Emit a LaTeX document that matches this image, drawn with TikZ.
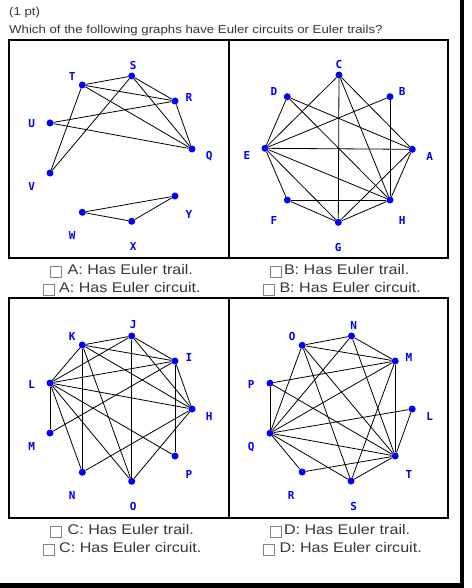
\documentclass[tikz,border=0pt]{standalone}
\usepackage{fontspec}
\setmainfont{Liberation Sans}
\newfontfamily\lblfont{DejaVu Sans Mono}
\newfontfamily\widefont{Liberation Sans}[FakeStretch=1.15]
\definecolor{nodeblue}{RGB}{0,0,250}
\definecolor{txtgray}{RGB}{55,55,55}
\definecolor{boxgray}{RGB}{130,130,130}
\tikzset{
  dot/.style={circle, fill=nodeblue, inner sep=0pt, minimum size=7pt},
  lbl/.style={text=nodeblue, font=\lblfont\bfseries\fontsize{11}{11}\selectfont, inner sep=0pt},
  edge/.style={draw=black, line width=0.8pt},
  frame/.style={draw=black, line width=1.6pt},
  chk/.style={draw=boxgray, fill=white, line width=0.7pt, minimum size=11.2pt, inner sep=0pt},
  opt/.style={text=txtgray, font=\widefont\fontsize{14}{14}\selectfont, anchor=base west, inner sep=0pt},
  hdr/.style={text=txtgray, font=\widefont\fontsize{11.5}{11.5}\selectfont, anchor=base west, inner sep=0pt},
}
\begin{document}
\begin{tikzpicture}[x=1pt,y=-1pt]
\useasboundingbox (0,0) rectangle (471,588);
\fill[white] (0,0) rectangle (471,588);
% outer borders
\fill[black] (459.5,0) rectangle (464,588);
\fill[black] (0,583.3) rectangle (464,588);
% header
\node[hdr] (h1) at (9,15.7) {(1 pt)};
\node[hdr] (h2) at (9,33.3) {Which of the following graphs have Euler circuits or Euler trails?};
% frames
\draw[frame] (9,40) rectangle (448,258);
\draw[frame] (228.7,40) -- (228.7,258);
\draw[frame] (9,298) rectangle (448,518);
\draw[frame] (228.7,298) -- (228.7,518);

% ---------- Graph A ----------
\node[dot] (aS) at (131.7,76) {};
\node[dot] (aT) at (82.3,85) {};
\node[dot] (aR) at (175,101) {};
\node[dot] (aU) at (50,123) {};
\node[dot] (aQ) at (192,149) {};
\node[dot] (aV) at (50,173) {};
\node[dot] (aY) at (175,196) {};
\node[dot] (aW) at (82.3,212.3) {};
\node[dot] (aX) at (131.7,221.3) {};
\node[lbl] (laS) at (133.3,65) {S};
\node[lbl] (laT) at (72.3,76) {T};
\node[lbl] (laR) at (189,97.3) {R};
\node[lbl] (laU) at (31.7,124) {U};
\node[lbl] (laQ) at (209.3,156) {Q};
\node[lbl] (laV) at (31.7,186.7) {V};
\node[lbl] (laY) at (189,214) {Y};
\node[lbl] (laW) at (72.3,235) {W};
\node[lbl] (laX) at (133.3,246.7) {X};
\foreach \u/\v in {aT/aS,aT/aR,aT/aQ,aT/aV,aS/aR,aS/aQ,aS/aV,aR/aQ,aR/aU,aU/aQ,aW/aY,aW/aX,aX/aY}
  \draw[edge] (\u) -- (\v);

% ---------- Graph B ----------
\node[dot] (bC) at (339,75) {};
\node[dot] (bD) at (287.3,96.7) {};
\node[dot] (bB) at (390,96.7) {};
\node[dot] (bE) at (265,148.3) {};
\node[dot] (bA) at (412.3,149.3) {};
\node[dot] (bF) at (287.3,200) {};
\node[dot] (bH) at (390,200) {};
\node[dot] (bG) at (338.3,222.3) {};
\node[lbl] (lbC) at (339,64) {C};
\node[lbl] (lbD) at (274,91) {D};
\node[lbl] (lbB) at (402.3,91) {B};
\node[lbl] (lbE) at (247,155.7) {E};
\node[lbl] (lbA) at (429.7,156) {A};
\node[lbl] (lbF) at (274,220.3) {F};
\node[lbl] (lbH) at (402.3,220.3) {H};
\node[lbl] (lbG) at (338.3,247.3) {G};
\foreach \u/\v in {bC/bE,bC/bG,bC/bH,bC/bA,bD/bE,bD/bA,bD/bH,bB/bE,bB/bH,bE/bA,bE/bH,bE/bG,bE/bF,bF/bH,bF/bG,bG/bH,bG/bA,bA/bH}
  \draw[edge] (\u) -- (\v);

% ---------- Graph C ----------
\node[dot] (cJ) at (131.7,336) {};
\node[dot] (cK) at (82.3,345) {};
\node[dot] (cI) at (175,361) {};
\node[dot] (cL) at (50,383) {};
\node[dot] (cH) at (192,409) {};
\node[dot] (cM) at (50,433) {};
\node[dot] (cP) at (175,456) {};
\node[dot] (cN) at (82.3,472.3) {};
\node[dot] (cO) at (131.7,481.3) {};
\node[lbl] (lcJ) at (133.3,325) {J};
\node[lbl] (lcK) at (72.3,336) {K};
\node[lbl] (lcI) at (189,357.3) {I};
\node[lbl] (lcL) at (31.7,384) {L};
\node[lbl] (lcH) at (209.3,416) {H};
\node[lbl] (lcM) at (31.7,446.7) {M};
\node[lbl] (lcP) at (189,474) {P};
\node[lbl] (lcN) at (72.3,495) {N};
\node[lbl] (lcO) at (133.3,506.7) {O};
\foreach \u/\v in {cK/cJ,cK/cI,cK/cH,cK/cN,cK/cO,cK/cL,cJ/cL,cJ/cO,cJ/cI,cJ/cH,cI/cL,cI/cM,cI/cP,cI/cH,cL/cH,cL/cM,cL/cN,cL/cO,cL/cP,cH/cN,cH/cO}
  \draw[edge] (\u) -- (\v);

% ---------- Graph D ----------
\node[dot] (dN) at (351.5,336) {};
\node[dot] (dO) at (302.2,345.3) {};
\node[dot] (dM) at (395.2,361) {};
\node[dot] (dP) at (270,383.2) {};
\node[dot] (dL) at (412.2,409) {};
\node[dot] (dQ) at (270,433.2) {};
\node[dot] (dT) at (395.2,456) {};
\node[dot] (dR) at (302.2,472) {};
\node[dot] (dS) at (351,481) {};
\node[lbl] (ldN) at (353.7,325) {N};
\node[lbl] (ldO) at (292.3,336) {O};
\node[lbl] (ldM) at (409,357.3) {M};
\node[lbl] (ldP) at (251.3,384) {P};
\node[lbl] (ldL) at (429.7,416.7) {L};
\node[lbl] (ldQ) at (251.3,446.7) {Q};
\node[lbl] (ldT) at (409,474) {T};
\node[lbl] (ldR) at (291.3,495) {R};
\node[lbl] (ldS) at (353.7,506.7) {S};
\foreach \u/\v in {dO/dN,dO/dM,dO/dQ,dO/dS,dO/dT,dN/dM,dN/dQ,dN/dT,dM/dP,dM/dQ,dM/dT,dM/dS,dP/dQ,dP/dT,dL/dQ,dL/dT,dQ/dT,dQ/dR,dQ/dS,dR/dT,dS/dT}
  \draw[edge] (\u) -- (\v);

% ---------- Options ----------
\node[chk] (kA1) at (55.8,271.8) {};
\node[opt] (tA1) at (67.5,274.3) {A: Has Euler trail.};
\node[chk] (kA2) at (48.5,290.1) {};
\node[opt] (tA2) at (59,292.7) {A: Has Euler circuit.};
\node[chk] (kB1) at (275.8,271.8) {};
\node[opt] (tB1) at (283.8,274.3) {B: Has Euler trail.};
\node[chk] (kB2) at (268.5,290.1) {};
\node[opt] (tB2) at (279.3,292.7) {B: Has Euler circuit.};
\node[chk] (kC1) at (55.8,531.8) {};
\node[opt] (tC1) at (67.5,534.3) {C: Has Euler trail.};
\node[chk] (kC2) at (48.5,550.1) {};
\node[opt] (tC2) at (59,552.7) {C: Has Euler circuit.};
\node[chk] (kD1) at (275.8,531.8) {};
\node[opt] (tD1) at (283.8,534.3) {D: Has Euler trail.};
\node[chk] (kD2) at (268.5,550.1) {};
\node[opt] (tD2) at (279.3,552.7) {D: Has Euler circuit.};
\end{tikzpicture}
\end{document}
